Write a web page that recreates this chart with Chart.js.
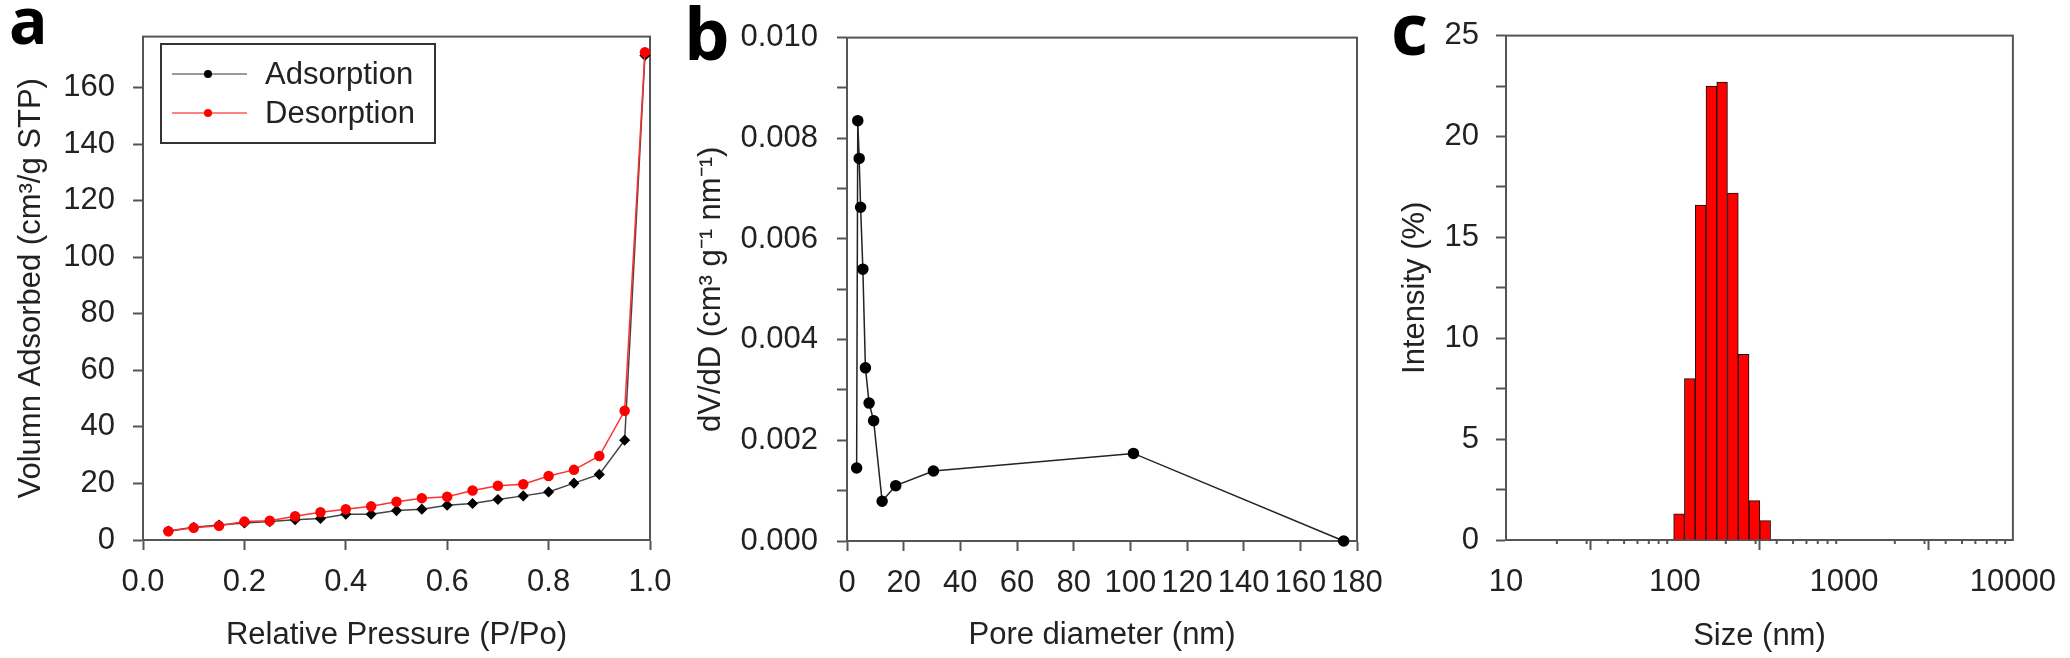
<!DOCTYPE html>
<html lang="en">
<head>
<meta charset="UTF-8">
<title>Isotherm, pore size and DLS</title>
<script src="https://cdn.jsdelivr.net/npm/chart.js"></script>
<style>
  body { margin: 0; background: #fff; width: 2070px; height: 658px; position: relative; overflow: hidden; }
  canvas { position: absolute; top: 0; }
  .tag { position: absolute; font-family: 'Open Sans'; font-weight: 700; line-height: 1; color: #000; }
</style>
</head>
<body>

<canvas id="chartA" width="700" height="658" style="left:0px"></canvas>
<canvas id="chartB" width="720" height="658" style="left:690px"></canvas>
<canvas id="chartC" width="690" height="658" style="left:1380px"></canvas>
<div class="tag" style="left:9px;top:-12px;font-size:64px">a</div>
<div class="tag" style="left:684px;top:-4px;font-size:72px">b</div>
<div class="tag" style="left:1391px;top:-9px;font-size:72px">c</div>

<script>
    // panel a: N2 isotherm
    var pressure = [0.05, 0.10, 0.15, 0.20, 0.25, 0.30, 0.35, 0.40, 0.45, 0.50,
                    0.55, 0.60, 0.65, 0.70, 0.75, 0.80, 0.85, 0.90, 0.95, 0.99]
    var adsorption = [3.2, 4.5, 5.3, 6.0, 6.5, 7.2, 7.6, 9.1, 9.1, 10.4,
                      10.9, 12.3, 12.9, 14.3, 15.6, 17.0, 20.1, 23.2, 35.3, 171.3]
    var desorption = [3.1, 4.3, 5.0, 6.5, 6.8, 8.4, 9.8, 10.9, 11.9, 13.5,
                      14.8, 15.3, 17.5, 19.2, 19.7, 22.6, 24.8, 29.7, 45.7, 172.5]

    // panel b: pore size distribution
    var poreDiameter = [3.4, 3.8, 4.3, 4.8, 5.6, 6.5, 7.8, 9.4, 12.4, 17.2, 30.5, 101.1, 175.3]
    var dVdD = [0.00145, 0.00835, 0.0076, 0.00663, 0.0054, 0.00344, 0.00274, 0.00239,
                0.00079, 0.0011, 0.00139, 0.00174, 0.0]

    // panel c: DLS size distribution
    var sizeNm = [105.7, 122.4, 141.8, 164.2, 190.1, 220.2, 255.0, 295.3, 342.0]
    var intensity = [1.3, 8.0, 16.6, 22.5, 22.7, 17.2, 9.2, 1.95, 0.96]

    var sizeDecades = [10, 100, 1000, 10000]

    var axisColor = '#555'
    var textColor = '#222'

    Chart.defaults.font.family = "'Liberation Sans', Arial, sans-serif"
    Chart.defaults.font.size = 31
    Chart.defaults.color = textColor

    function pairs(xs, ys) {
        return xs.map(function (x, i) { return {x: x, y: ys[i]} })
    }

    // box round the plot area, drawn under the data
    var frame = {
        id: 'frame',
        beforeDatasetsDraw: function (chart) {
            var a = chart.chartArea, c = chart.ctx
            c.save()
            c.strokeStyle = axisColor
            c.lineWidth = 2
            c.strokeRect(a.left, a.top, a.right - a.left, a.bottom - a.top)
            c.restore()
        }
    }

    function baseScale(width, height) {
        return {
            grid: {drawOnChartArea: false, drawTicks: true, tickLength: 10, tickColor: axisColor, tickWidth: 2},
            border: {color: axisColor, width: 2},
            afterFit: function (s) {
                if (width) s.width = width
                if (height) s.height = height
            }
        }
    }

    // ---------- a ----------
    var legendBox = {
        id: 'legendBox',
        afterDraw: function (chart) {
            var c = chart.ctx
            c.save()
            c.strokeStyle = '#333'
            c.lineWidth = 2
            c.strokeRect(161, 44, 274, 99)
            chart.data.datasets.forEach(function (ds, i) {
                var y = 74 + i * 39
                c.strokeStyle = ds.legendLine
                c.lineWidth = 2
                c.beginPath()
                c.moveTo(172, y)
                c.lineTo(247, y)
                c.stroke()
                c.fillStyle = ds.pointBackgroundColor
                c.beginPath()
                c.arc(208, y, 4, 0, Math.PI * 2)
                c.fill()
                c.fillStyle = textColor
                c.font = "31px 'Liberation Sans', Arial, sans-serif"
                c.textBaseline = 'middle'
                c.fillText(ds.label, 265, y + 1)
            })
            c.restore()
        }
    }

    var ax = baseScale(null, 118)
    ax.type = 'linear'
    ax.min = 0
    ax.max = 1.0
    ax.ticks = {stepSize: 0.2, padding: 14, maxRotation: 0, callback: function (v) { return v.toFixed(1) }}
    ax.title = {display: true, text: 'Relative Pressure (P/Po)', padding: {top: 0, bottom: 4}}

    var ay = baseScale(143, null)
    ay.min = 0
    ay.max = 178
    ay.ticks = {stepSize: 20, padding: 18}
    ay.afterBuildTicks = function (s) { s.ticks = s.ticks.filter(function (t) { return t.value % 20 === 0 }) }
    ay.title = {display: true, text: 'Volumn Adsorbed (cm³/g STP)', padding: {top: 13, bottom: 0}}

    new Chart(document.getElementById('chartA'), {
        type: 'line',
        data: {
            datasets: [{
                label: 'Adsorption',
                data: pairs(pressure, adsorption),
                borderColor: '#444',
                legendLine: '#999',
                borderWidth: 1.5,
                pointStyle: 'rectRot',
                pointRadius: 4.5,
                pointBackgroundColor: '#000',
                pointBorderColor: '#000',
                order: 1,
                clip: false
            }, {
                label: 'Desorption',
                data: pairs(pressure, desorption),
                borderColor: '#ff3030',
                legendLine: '#ff8080',
                borderWidth: 1.5,
                pointRadius: 4.5,
                pointBackgroundColor: '#ff0000',
                pointBorderColor: '#ff0000',
                order: 0,
                clip: false
            }]
        },
        options: {
            responsive: false,
            animation: false,
            devicePixelRatio: 1,
            layout: {padding: {left: 0, right: 50, top: 31, bottom: 0}},
            plugins: {legend: {display: false}, tooltip: {enabled: false}},
            scales: {x: ax, y: ay}
        },
        plugins: [frame, legendBox]
    })

    // ---------- b ----------
    var bx = baseScale(null, 117)
    bx.type = 'linear'
    bx.min = 0
    bx.max = 180
    bx.ticks = {stepSize: 20, padding: 14, maxRotation: 0, autoSkip: false}
    bx.title = {display: true, text: 'Pore diameter (nm)', padding: {top: 0, bottom: 4}}

    var by = baseScale(157, null)
    by.min = 0
    by.max = 0.010
    by.ticks = {
        stepSize: 0.001, padding: 19, autoSkip: false,
        callback: function (v) { return Math.round(v * 1000) % 2 === 0 ? v.toFixed(3) : '' }
    }
    by.title = {display: true, text: 'dV/dD (cm³ g⁻¹ nm⁻¹)', padding: {top: 3, bottom: 0}}

    new Chart(document.getElementById('chartB'), {
        type: 'line',
        data: {
            datasets: [{
                label: 'dV/dD',
                data: pairs(poreDiameter, dVdD),
                borderColor: '#222',
                borderWidth: 1.5,
                pointRadius: 5,
                pointBackgroundColor: '#000',
                pointBorderColor: '#000',
                clip: false
            }]
        },
        options: {
            responsive: false,
            animation: false,
            devicePixelRatio: 1,
            layout: {padding: {left: 0, right: 53, top: 29, bottom: 0}},
            plugins: {legend: {display: false}, tooltip: {enabled: false}},
            scales: {x: bx, y: by}
        },
        plugins: [frame]
    })

    // ---------- c ----------
    // short minor ticks (2..9 per decade) on the log axis; kept out of the
    // scale's own ticks so the bar width follows the bin spacing
    var minorTicks = {
        id: 'minorTicks',
        afterDraw: function (chart) {
            var s = chart.scales.x, c = chart.ctx
            c.save()
            c.strokeStyle = axisColor
            c.lineWidth = 2
            c.beginPath()
            sizeDecades.slice(0, -1).forEach(function (d) {
                for (var k = 2; k < 10; k++) {
                    var px = s.getPixelForValue(d * k)
                    c.moveTo(px, s.top)
                    c.lineTo(px, s.top + 4)
                }
            })
            c.stroke()
            c.restore()
        }
    }

    var cx = baseScale(null, 118)
    cx.type = 'logarithmic'
    cx.min = 10
    cx.max = 10000
    cx.afterBuildTicks = function (s) {
        s.ticks = sizeDecades.map(function (d) { return {value: d} })
    }
    cx.ticks = {padding: 14, maxRotation: 0, autoSkip: false,
        callback: function (v) { return String(Math.round(v)) }}
    cx.title = {display: true, text: 'Size (nm)', padding: {top: 0, bottom: 3}}

    var cy = baseScale(126, null)
    cy.min = 0
    cy.max = 25
    cy.ticks = {stepSize: 2.5, padding: 17, autoSkip: false,
        callback: function (v) { return v % 5 === 0 ? v : '' }}
    cy.title = {display: true, text: 'Intensity (%)', padding: {top: 17, bottom: 0}}

    new Chart(document.getElementById('chartC'), {
        type: 'bar',
        data: {
            datasets: [{
                label: 'Intensity',
                data: pairs(sizeNm, intensity),
                backgroundColor: '#ff0000',
                borderColor: '#111',
                borderWidth: 1,
                borderSkipped: 'start',
                barPercentage: 1.0,
                categoryPercentage: 1.0
            }]
        },
        options: {
            responsive: false,
            animation: false,
            devicePixelRatio: 1,
            layout: {padding: {left: 0, right: 53, top: 29, bottom: 0}},
            plugins: {legend: {display: false}, tooltip: {enabled: false}},
            scales: {x: cx, y: cy}
        },
        plugins: [frame, minorTicks]
    })
</script>

</body>
</html>
